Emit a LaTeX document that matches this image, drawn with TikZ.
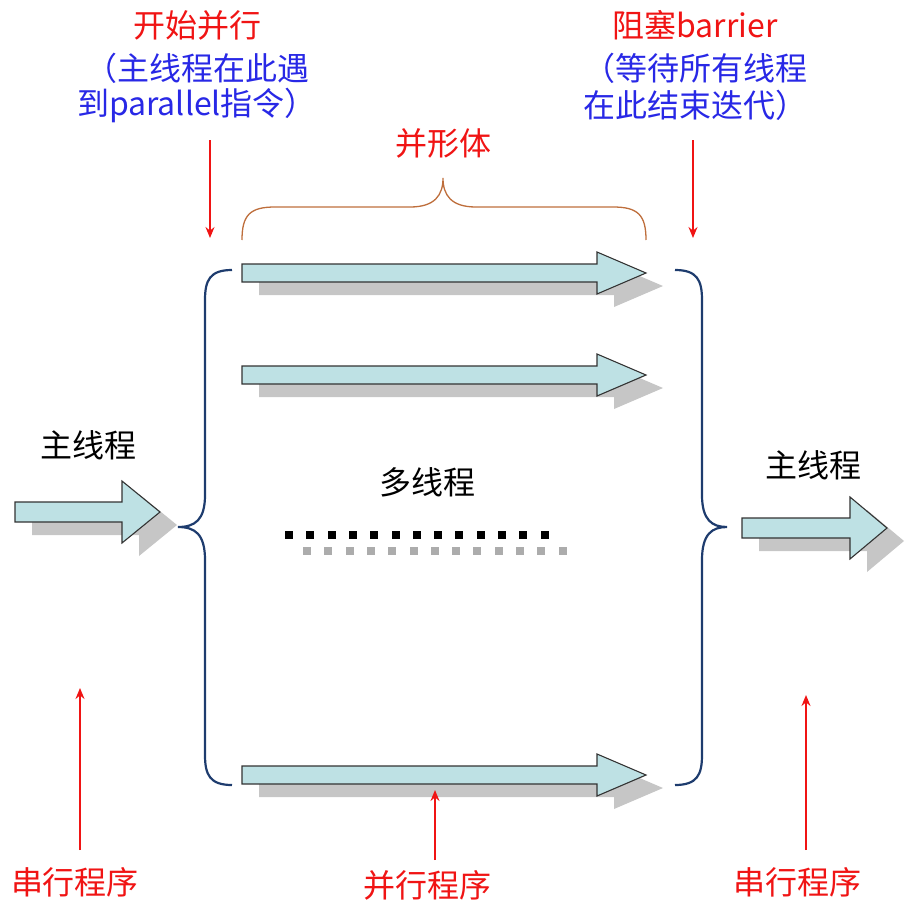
\documentclass[tikz,border=0pt]{standalone}
\usepackage{fontspec}
\setmainfont{Noto Sans CJK SC}
\usetikzlibrary{arrows.meta}
\begin{document}
\begin{tikzpicture}[x=1pt,y=-1pt,
  txt/.style={font=\fontsize{32}{36}\selectfont, inner sep=0pt},
  red/.style={text={rgb,255:red,240;green,20;blue,20}},
  blu/.style={text={rgb,255:red,40;green,40;blue,230}},
  redarr/.style={draw={rgb,255:red,240;green,20;blue,20}, line width=1.6pt, -{Stealth[length=11pt,width=9pt]}},
  brace/.style={draw={rgb,255:red,30;green,60;blue,110}, line width=2.2pt},
  sq/.style={minimum size=8pt, inner sep=0pt}]
\useasboundingbox (0,0) rectangle (914,924);
\newcommand\tharrow[6]{% x0 xh xt yc hs hh
  \fill[gray!45] ({#1+17},{#4-#5+13}) -- ({#2+17},{#4-#5+13}) -- ({#2+17},{#4-#6+13}) -- ({#3+17},{#4+13}) -- ({#2+17},{#4+#6+13}) -- ({#2+17},{#4+#5+13}) -- ({#1+17},{#4+#5+13}) -- cycle;
  \filldraw[fill={rgb,255:red,190;green,225;blue,228}, draw=black!80, line width=1.1pt] (#1,{#4-#5}) -- (#2,{#4-#5}) -- (#2,{#4-#6}) -- (#3,#4) -- (#2,{#4+#6}) -- (#2,{#4+#5}) -- (#1,{#4+#5}) -- cycle;}
\tharrow{242}{597}{646}{273}{9}{21}
\tharrow{242}{597}{646}{375}{9}{21}
\tharrow{242}{597}{646}{775}{9}{21}
\tharrow{15}{122}{160}{512}{10}{31}
\tharrow{742}{850}{887}{528}{10}{31}
% braces
\draw[brace] (232,270) .. controls (210,270) and (205,280) .. (205,300) -- (205,495) .. controls (205,520) and (195,527) .. (178,527) .. controls (195,527) and (205,534) .. (205,560) -- (205,755) .. controls (205,775) and (210,785) .. (232,785);
\draw[brace] (675,270) .. controls (697,270) and (702,280) .. (702,300) -- (702,495) .. controls (702,520) and (712,527) .. (727,527) .. controls (712,527) and (702,534) .. (702,560) -- (702,755) .. controls (702,775) and (697,785) .. (675,785);
\draw[draw={rgb,255:red,190;green,110;blue,60}, line width=1.3pt] (242,240) .. controls (242,215) and (250,207) .. (275,207) -- (410,207) .. controls (435,207) and (443,195) .. (443,178) .. controls (443,195) and (451,207) .. (476,207) -- (613,207) .. controls (638,207) and (646,215) .. (646,240);
% dots
\foreach \i in {0,...,12} {
  \node[sq, fill=gray!65] (g\i) at ({307+21.3*\i},551) {};
  \node[sq, fill=black] (b\i) at ({289+21.3*\i},535) {};
}
% texts
\node[txt,red] (t1) at (197,25) {开始并行};
\node[txt,blu] (t2) at (197,68) {（主线程在此遇};
\node[txt,blu] (t3) at (197,105) {到parallel指令）};
\node[txt,red] (t4) at (695,25) {阻塞barrier};
\node[txt,blu] (t5) at (695,68) {（等待所有线程};
\node[txt,blu] (t6) at (695,105) {在此结束迭代）};
\node[txt,red] (t7) at (443,143) {并形体};
\node[txt] (m1) at (88,445) {主线程};
\node[txt] (m2) at (813,465) {主线程};
\node[txt] (m3) at (427,482) {多线程};
\node[txt,red] (s1) at (75,882) {串行程序};
\node[txt,red] (s2) at (427,885) {并行程序};
\node[txt,red] (s3) at (797,882) {串行程序};
\coordinate (a1) at (210,140); \coordinate (a2) at (210,238);
\coordinate (a3) at (693,140); \coordinate (a4) at (693,238);
\coordinate (b1) at (80,850); \coordinate (b2) at (80,688);
\coordinate (c1) at (435,860); \coordinate (c2) at (435,790);
\coordinate (d1) at (806,850); \coordinate (d2) at (806,695);
\draw[redarr] (a1) -- (a2);
\draw[redarr] (a3) -- (a4);
\draw[redarr] (b1) -- (b2);
\draw[redarr] (c1) -- (c2);
\draw[redarr] (d1) -- (d2);
\end{tikzpicture}
\end{document}
